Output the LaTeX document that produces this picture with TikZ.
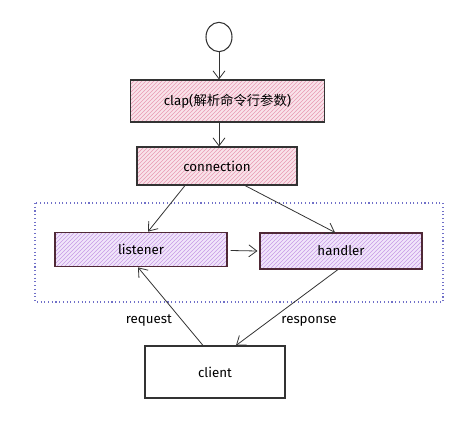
\documentclass[tikz,border=0pt]{standalone}
\usepackage{fontspec}
\setmainfont{Fira Sans}
\newfontfamily\cjk{Noto Sans CJK SC}
\usepackage{tikz}
\usepackage{xcolor}
\usetikzlibrary{shapes.geometric, arrows.meta, positioning, calc, patterns}

\definecolor{pinkbg}{HTML}{F9E3EA}
\definecolor{pinkline}{HTML}{E89AB3}
\definecolor{purplebg}{HTML}{F1E6FA}
\definecolor{purpleline}{HTML}{C79BE6}
\definecolor{dotblue}{HTML}{7070C8}
\definecolor{inkgray}{HTML}{333333}

\tikzset{
  pinkbox/.style={draw=inkgray, thick, inner sep=0pt, font=\fontsize{10}{12}\selectfont,
    preaction={fill=pinkbg}, pattern=north east lines, pattern color=pinkline},
  purplebox/.style={draw=inkgray!80!purple, thick, inner sep=0pt, font=\fontsize{10}{12}\selectfont,
    preaction={fill=purplebg}, pattern=north east lines, pattern color=purpleline},
  plainbox/.style={draw=inkgray, thick, inner sep=0pt, font=\fontsize{10}{12}\selectfont},
  flow/.style={-{Straight Barb[length=6pt,width=9pt]}, draw=inkgray, semithick},
  lbl/.style={font=\fontsize{10}{12}\selectfont}
}

\begin{document}
\begin{tikzpicture}[x=0.75pt, y=-0.75pt]
\useasboundingbox (0,0) rectangle (474,443);

% group frame
\draw[dotblue, dotted, thick] (35,203) rectangle (443,302);

% nodes
\node[draw=inkgray, thick, ellipse, minimum width=19.5pt, minimum height=22pt, inner sep=0pt] (start) at (219,37) {};
\node[pinkbox, minimum width=146pt, minimum height=31.5pt] (clap) at (227.5,101) {clap({\cjk 解析命令行参数})};
\node[pinkbox, minimum width=120pt, minimum height=28.5pt] (conn) at (217,166) {connection};
\node[purplebox, minimum width=129pt, minimum height=26pt] (listener) at (141,249.5) {listener};
\node[purplebox, minimum width=121.5pt, minimum height=27pt] (handler) at (341,251) {handler};
\node[plainbox, minimum width=105pt, minimum height=39pt] (client) at (215,372) {client};

% connectors
\draw[flow] (start) -- (start |- clap.north);
\draw[flow] ($(clap.south)+(-8.5,0)$) -- ($(conn.north)+(2,0)$);
\draw[flow] ($(conn.south)+(-32,0)$) -- ($(listener.north)+(7,0)$);
\draw[flow] ($(conn.south)+(28,0)$) -- ($(handler.north)+(-6,0)$);
\draw[flow] ($(listener.east)+(3,1)$) -- ($(handler.west)+(-2,0)$);
\draw[flow] ($(client.north)+(-12,0)$) -- ($(listener.south)+(-3,0)$)
  node[lbl, pos=0.32, left=4pt] {request};
\draw[flow] ($(handler.south)+(-3,0)$) -- ($(client.north)+(21,0)$)
  node[lbl, pos=0.68, right=6pt] {response};
\end{tikzpicture}
\end{document}
